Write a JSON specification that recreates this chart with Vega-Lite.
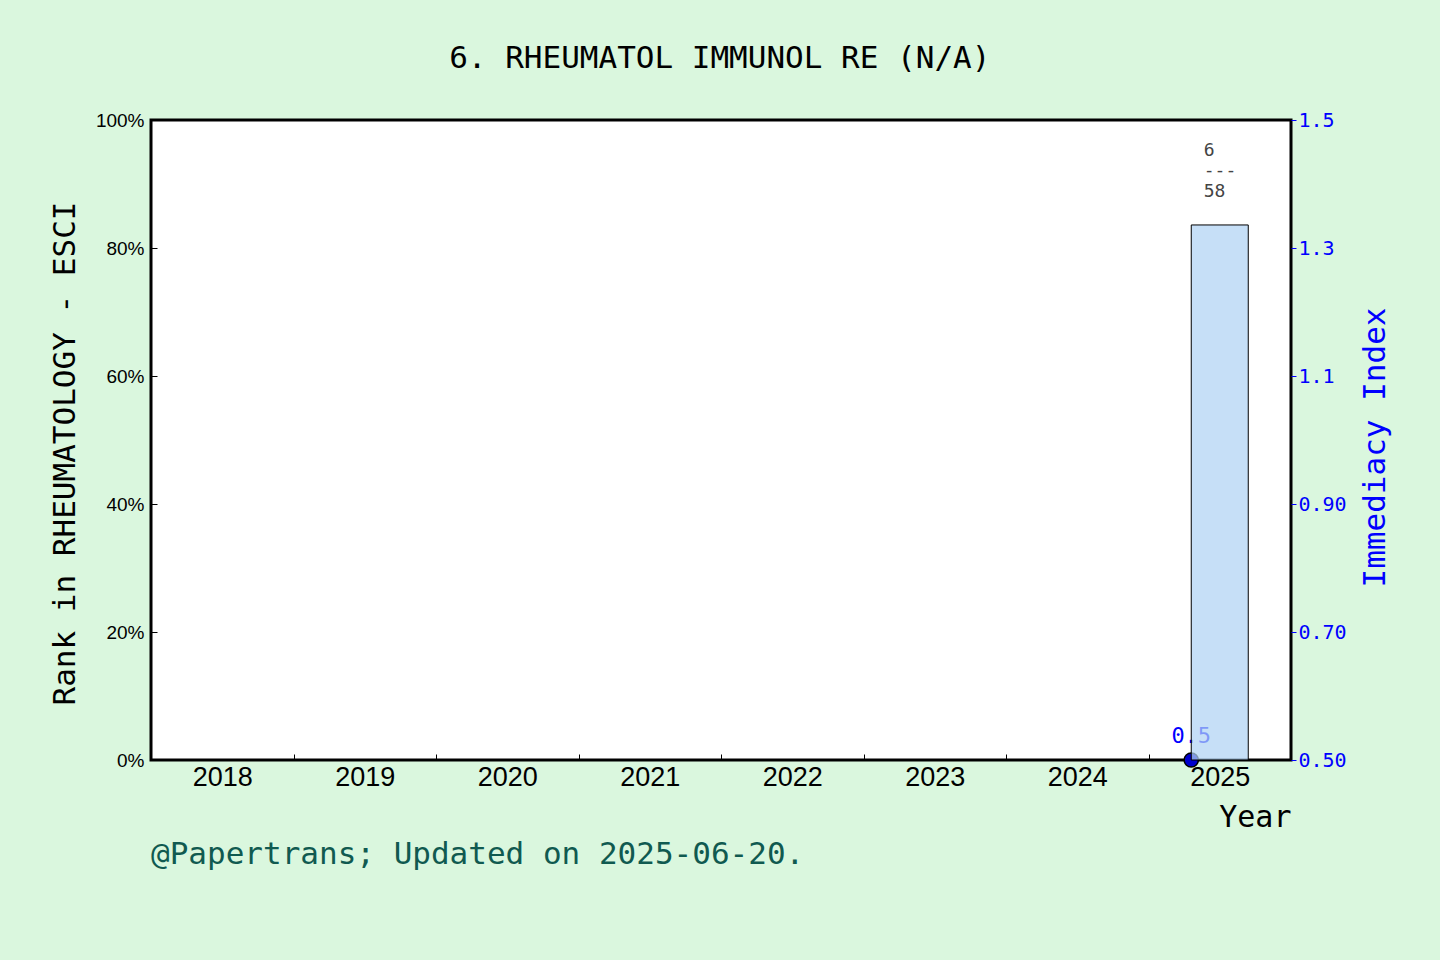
{
  "$schema": "https://vega.github.io/schema/vega-lite/v6.json",
  "background": "#daf7de",
  "padding": {"left": 47, "top": 42, "right": 50, "bottom": 88},
  "title": {
    "text": "6. RHEUMATOL IMMUNOL RE (N/A)",
    "font": "DejaVu Sans Mono",
    "fontSize": 31,
    "fontWeight": "normal",
    "color": "black",
    "anchor": "middle",
    "offset": 34
  },
  "config": {
    "view": {"fill": "white", "stroke": "black", "strokeWidth": 3}
  },
  "vconcat": [
    {
      "width": 1140,
      "height": 640,
      "title": {
        "text": "@Papertrans; Updated on 2025-06-20.",
        "orient": "bottom",
        "anchor": "start",
        "frame": "group",
        "font": "DejaVu Sans Mono",
        "fontSize": 31,
        "fontWeight": "normal",
        "color": "#105a50",
        "offset": 8
      },
      "data": {
        "values": [
          {"year": 2025, "rank": 6, "total": 58, "percentile": 0.836, "immediacy": 0.5, "rankLabel": "6\n---\n58", "iiLabel": "0.5"}
        ]
      },
      "encoding": {
        "x": {
          "field": "year",
          "type": "ordinal",
          "scale": {"domain": [2018, 2019, 2020, 2021, 2022, 2023, 2024, 2025], "paddingInner": 0, "paddingOuter": 0},
          "axis": {
            "title": "Year",
            "titleAnchor": "end",
            "titleFont": "DejaVu Sans Mono",
            "titleFontSize": 30,
            "titleFontWeight": "normal",
            "titleColor": "black",
            "titlePadding": 12,
            "labelFont": "Liberation Sans",
            "labelFontSize": 27,
            "labelColor": "black",
            "labelAngle": 0,
            "labelPadding": 10,
            "tickBand": "extent",
            "tickSize": -6,
            "tickColor": "black",
            "domain": false,
            "grid": false
          }
        }
      },
      "layer": [
        {
          "encoding": {
            "y": {
              "field": "immediacy",
              "type": "quantitative",
              "scale": {"domain": [0.5, 1.5], "nice": false, "zero": false},
              "axis": {
                "orient": "right",
                "values": [0.5, 0.7, 0.9, 1.1, 1.3, 1.5],
                "labelExpr": "datum.value < 1 ? format(datum.value, '.2f') : format(datum.value, '.1f')",
                "title": "Immediacy Index",
                "titleAngle": 270,
                "titleBaseline": "top",
                "titleY": 327,
                "titleFont": "DejaVu Sans Mono",
                "titleFontSize": 31,
                "titleFontWeight": "normal",
                "titleColor": "blue",
                "titlePadding": 14,
                "labelFont": "DejaVu Sans Mono",
                "labelFontSize": 20,
                "labelColor": "blue",
                "labelPadding": 2,
                "tickSize": 5,
                "tickColor": "blue",
                "domain": false,
                "grid": false
              }
            }
          },
          "layer": [
            {
              "mark": {"type": "circle", "size": 200, "color": "#0000cd", "stroke": "black", "strokeWidth": 1.5, "opacity": 1, "xOffset": -28.5}
            },
            {
              "mark": {"type": "text", "xOffset": -28.5, "dy": -12, "baseline": "bottom", "font": "DejaVu Sans Mono", "fontSize": 22, "color": "blue"},
              "encoding": {"text": {"field": "iiLabel"}}
            }
          ]
        },
        {
          "encoding": {
            "y": {
              "field": "percentile",
              "type": "quantitative",
              "scale": {"domain": [0, 1]},
              "axis": {
                "orient": "left",
                "values": [0, 0.2, 0.4, 0.6, 0.8, 1],
                "format": ".0%",
                "title": "Rank in RHEUMATOLOGY - ESCI",
                "titleY": 333,
                "titleFont": "DejaVu Sans Mono",
                "titleFontSize": 31,
                "titleFontWeight": "normal",
                "titleColor": "black",
                "titlePadding": 14,
                "labelFont": "Liberation Sans",
                "labelFontSize": 19,
                "labelColor": "black",
                "labelPadding": 13,
                "tickSize": -6,
                "tickColor": "black",
                "domain": false,
                "grid": false
              }
            }
          },
          "layer": [
            {
              "mark": {"type": "bar", "width": {"band": 0.4}, "fill": "#b0d3f4", "fillOpacity": 0.72, "stroke": "black", "strokeWidth": 1}
            },
            {
              "mark": {"type": "text", "align": "left", "baseline": "bottom", "dx": -16, "dy": -65, "lineBreak": "\n", "lineHeight": 20.5, "font": "DejaVu Sans Mono", "fontSize": 18, "color": "#444444"},
              "encoding": {"text": {"field": "rankLabel"}}
            }
          ]
        }
      ],
      "resolve": {"scale": {"y": "independent"}, "axis": {"y": "independent"}}
    }
  ]
}
